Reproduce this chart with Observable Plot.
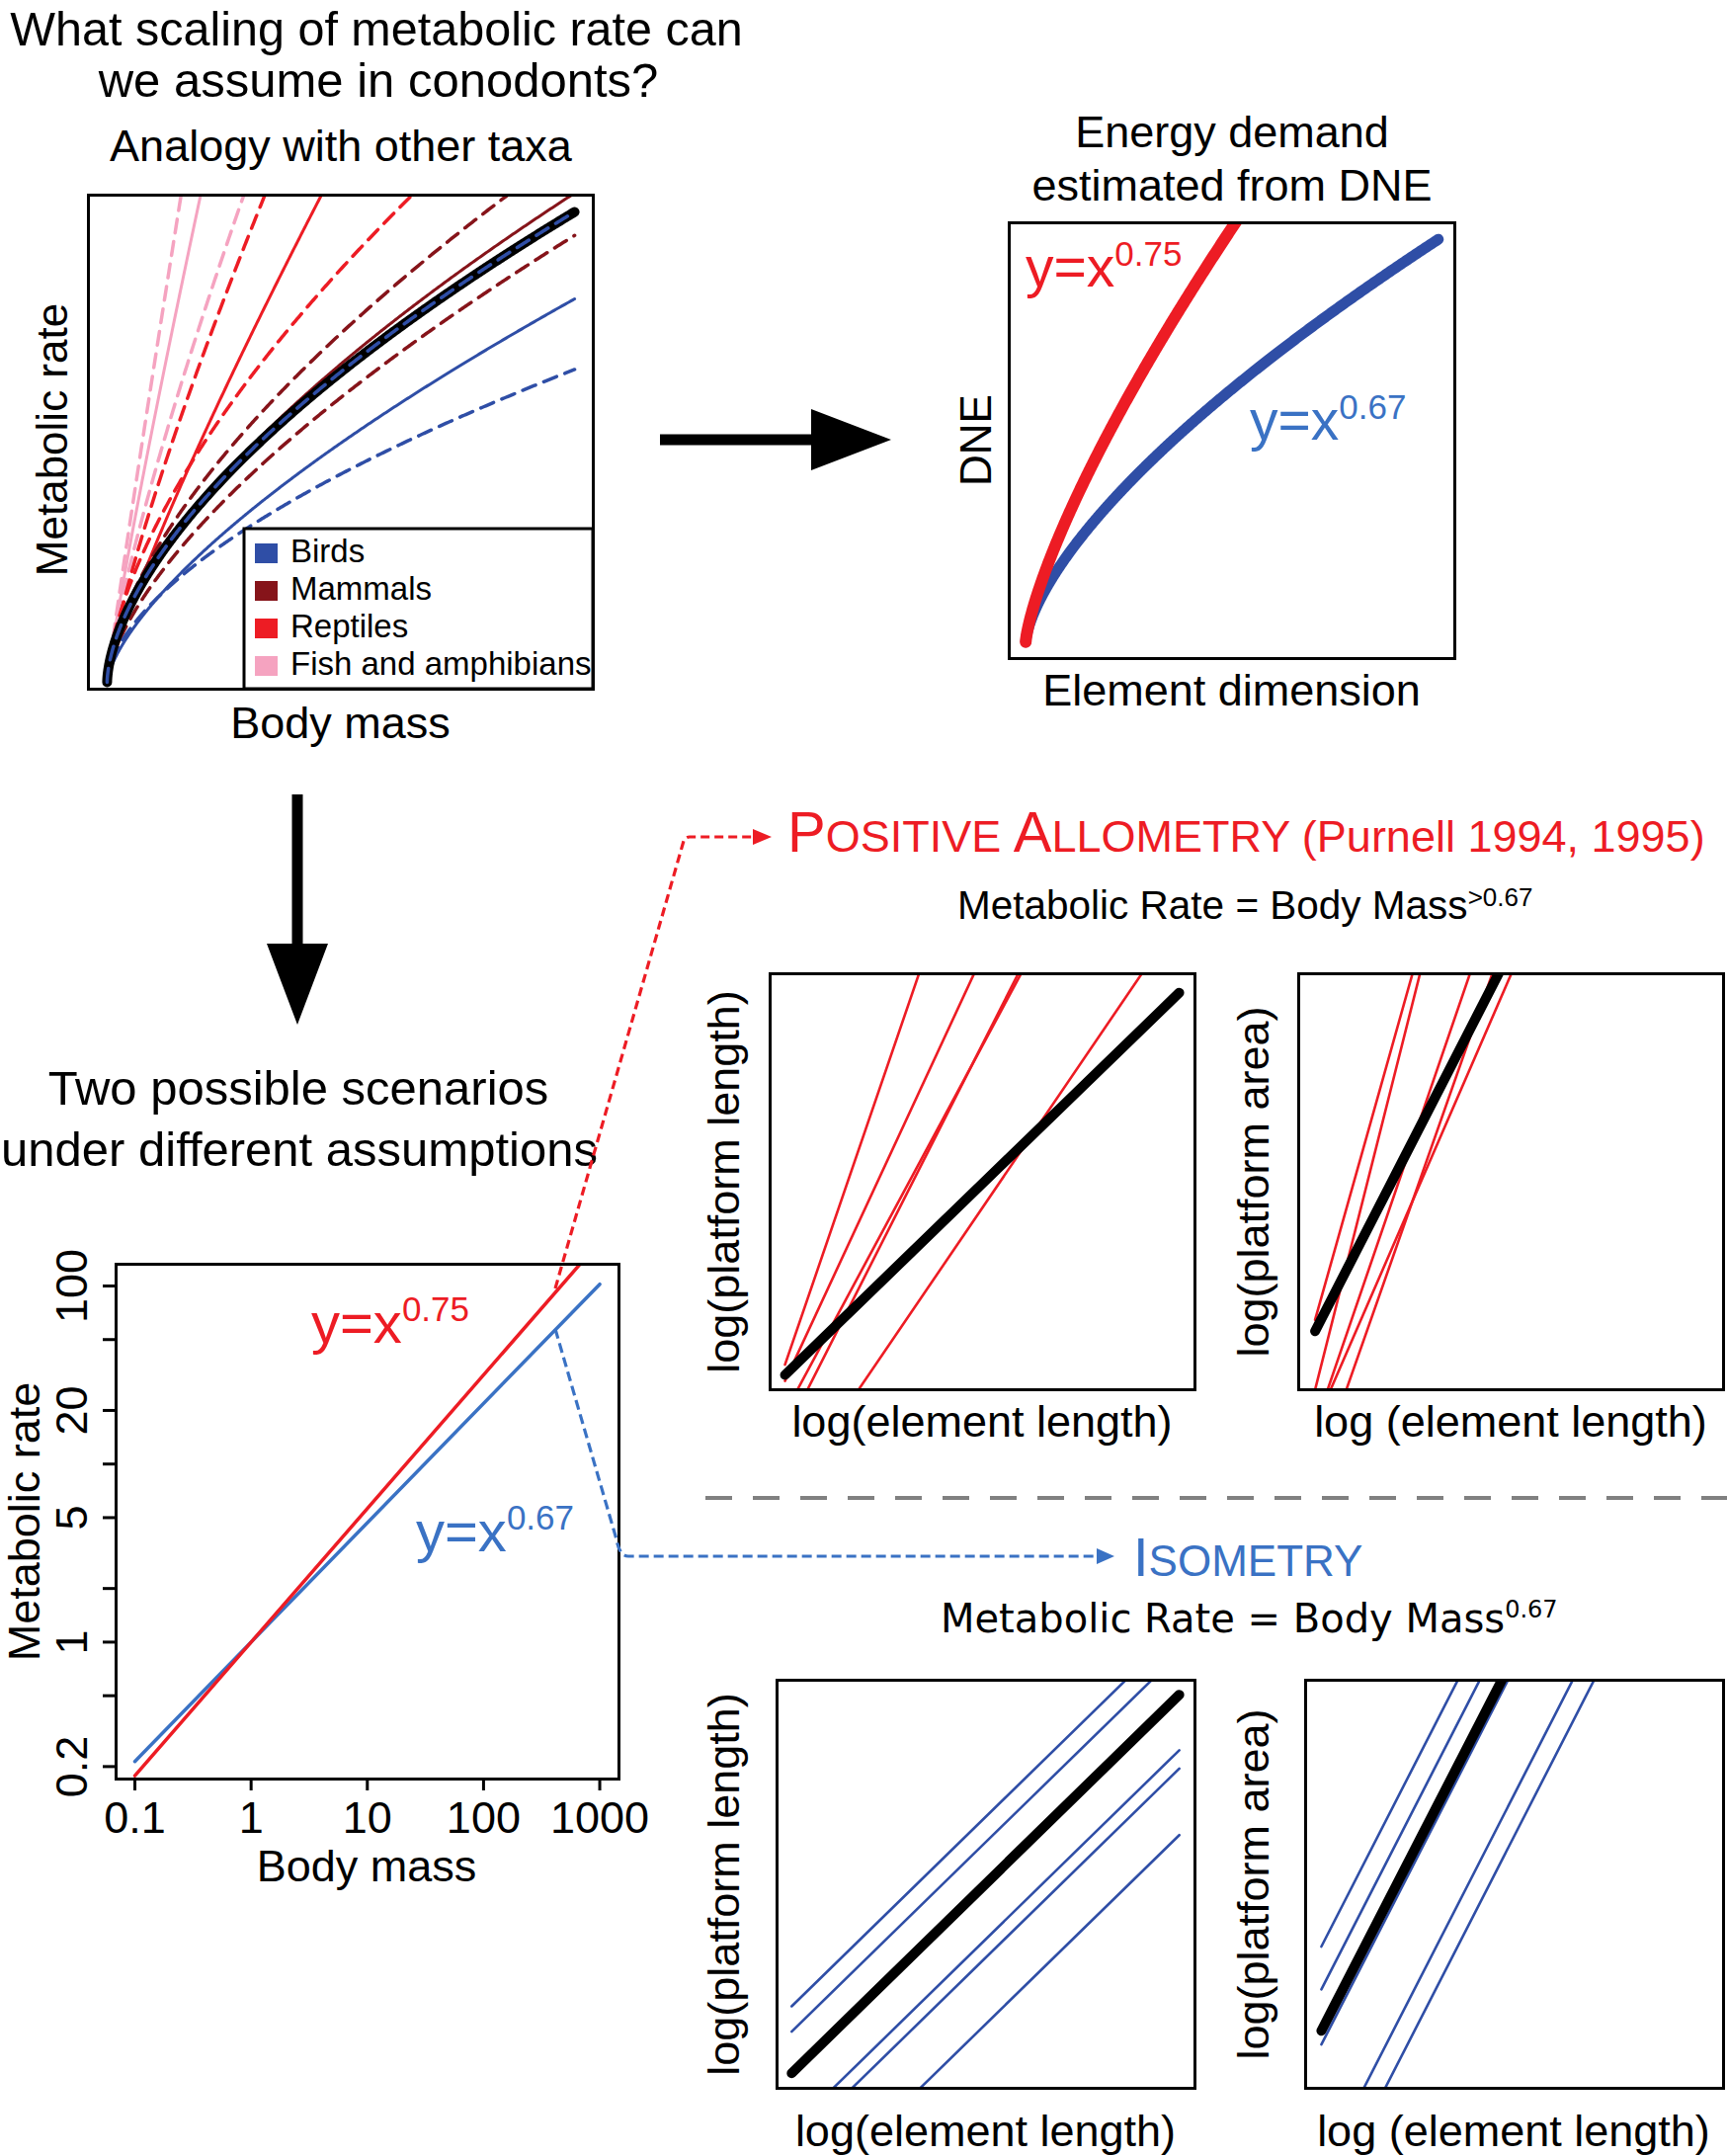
<!DOCTYPE html>
<html>
<head>
<meta charset="utf-8">
<script src="https://cdn.jsdelivr.net/npm/d3@7"></script>
<script src="https://cdn.jsdelivr.net/npm/@observablehq/plot@0.6"></script>
<style>
  body { margin: 0; background: #fff; }
  #page { position: relative; width: 1748px; height: 2182px; background: #fff; overflow: hidden; }
  #page text { white-space: pre; }
</style>
</head>
<body>
<div id="page"></div>
<script>
// ================= DATA =================
// Panel 1: "Analogy with other taxa" – metabolic rate = coef * mass^exp (normalised units)
const taxa = ["Birds", "Mammals", "Reptiles", "Fish and amphibians"];
const taxaColors = ["#2f4ea6", "#86141a", "#ed1c24", "#f5a3c0"];
const curveTaxon = ["Fish and amphibians", "Fish and amphibians", "Fish and amphibians",
                    "Reptiles", "Reptiles", "Reptiles",
                    "Mammals", "Mammals", "Mammals",
                    "Birds", "Birds"];
const curveDashed = [true, false, true, true, false, true, true, false, true, false, true];
const curveCoef = [5.97, 4.41, 2.77, 2.47, 2.01, 1.35, 1.14, 1.04, 0.95, 0.815, 0.665];
const curveExp  = [0.95, 0.90, 0.80, 0.80, 0.85, 0.62, 0.62, 0.62, 0.65, 0.68, 0.587];
const conodontCoef = 1.0;
const conodontExp = 0.60;

// Panel 2: "Energy demand estimated from DNE"
const dneSeries = ["0.75", "0.67"];
const dneCoef = [1.73, 1.0];
const dneExp = [0.75, 0.67];
const dneColors = ["#ed1c24", "#2f4ea6"];

// Panel 3: "Two possible scenarios" (log-log)
const scenarioSeries = ["0.67", "0.75"];
const scenarioExp = [0.67, 0.75];
const scenarioColors = ["#3a72c4", "#ed1c24"];
const massRange = [0.1, 1000];
const massTicks = [0.1, 1, 10, 100, 1000];
const massTickLabels = ["0.1", "1", "10", "100", "1000"];
const rateTicks = [0.2, 0.5, 1, 2, 5, 10, 20, 50, 100];
const rateTickLabels = ["0.2", "", "1", "", "5", "", "20", "", "100"];

// Panels 4-7: schematic log-log regressions, y = intercept + slope * x (unit frame)
const posLenIntercept = [-0.044, -0.056, -0.122, -0.177, -0.312];
const posLenSlope     = [2.98, 2.20, 1.90, 2.016, 1.50];
const posLenRef       = [0.001, 0.99];
const posAreaIntercept = [0.028, -0.156, -0.203, -0.176, -0.326];
const posAreaSlope     = [3.63, 4.05, 2.985, 2.35, 2.91];
const posAreaRef       = [0.064, 1.99];
const isoLenIntercept = [0.166, 0.104, -0.134, -0.179, -0.342];
const isoLenSlope     = [1, 1, 1, 1, 1];
const isoLenRef       = [0.002, 1.0];
const isoAreaIntercept = [0.272, 0.167, 0.032, -0.278, -0.38];
const isoAreaSlope     = [2, 2, 2, 2, 2];
const isoAreaRef       = [0.066, 1.99];

// ================= HELPERS =================
const FONT = '"Liberation Sans", Arial, Helvetica, sans-serif';
const page = document.getElementById("page");
function place(svg, left, top) {
  svg.style.position = "absolute";
  svg.style.left = left + "px";
  svg.style.top = top + "px";
  svg.style.maxWidth = "none";
  page.appendChild(svg);
}
const baseStyle = {fontFamily: FONT, background: "transparent", overflow: "visible"};
const grid = d3.range(0, 501).map(i => (i / 500) ** 2);

// ================= PANEL 1 =================
{
  const rows = [];
  curveTaxon.forEach((t, i) => grid.forEach(m => rows.push({id: i, taxon: t, dashed: curveDashed[i], x: m, y: curveCoef[i] * Math.pow(m, curveExp[i])})));
  const ref = grid.map(m => ({x: m, y: conodontCoef * Math.pow(m, conodontExp)}));
  const svg = Plot.plot({
    width: 640, height: 540,
    marginLeft: 89, marginRight: 40, marginTop: 17, marginBottom: 23,
    style: baseStyle,
    x: {domain: [-0.04, 1.04], axis: null},
    y: {domain: [-0.0147, 1.0357], axis: null},
    color: {domain: taxa, range: taxaColors},
    marks: [
      Plot.line(rows.filter(d => !d.dashed), {x: "x", y: "y", z: "id", stroke: "taxon", strokeWidth: 3, clip: true}),
      Plot.line(rows.filter(d => d.dashed), {x: "x", y: "y", z: "id", stroke: "taxon", strokeWidth: 3.5, strokeDasharray: "14,9", clip: true}),
      Plot.line(ref, {x: "x", y: "y", stroke: "#000", strokeWidth: 10, strokeLinecap: "round", clip: true}),
      Plot.line(ref, {x: "x", y: "y", stroke: taxaColors[0], strokeWidth: 3.5, strokeDasharray: "14,9", clip: true}),
      Plot.frame({stroke: "#000", strokeWidth: 3})
    ]
  });
  place(svg, 0, 180);
}

// ================= PANEL 2 =================
{
  const rows = [];
  dneSeries.forEach((s, i) => grid.forEach(m => rows.push({s, x: m, y: dneCoef[i] * Math.pow(m, dneExp[i])})));
  const svg = Plot.plot({
    width: 500, height: 500,
    marginLeft: 21, marginRight: 28, marginTop: 25, marginBottom: 34,
    style: baseStyle,
    x: {domain: [-0.04, 1.04], axis: null},
    y: {domain: [-0.041, 1.041], axis: null},
    color: {domain: dneSeries, range: dneColors},
    marks: [
      Plot.line(rows.filter(d => d.s === "0.67"), {x: "x", y: "y", stroke: "s", strokeWidth: 11, strokeLinecap: "round", clip: true}),
      Plot.line(rows.filter(d => d.s === "0.75"), {x: "x", y: "y", stroke: "s", strokeWidth: 12, strokeLinecap: "round", clip: true}),
      Plot.frame({stroke: "#000", strokeWidth: 3})
    ]
  });
  place(svg, 1000, 200);
}

// ================= PANEL 3 =================
{
  const rows = [];
  scenarioSeries.forEach((s, i) => massRange.forEach(m => rows.push({s, x: m, y: Math.pow(m, scenarioExp[i])})));
  const yLabelled = rateTicks.map((v, i) => ({v, t: rateTickLabels[i]})).filter(d => d.t !== "");
  const svg = Plot.plot({
    width: 700, height: 680,
    marginLeft: 117, marginRight: 74, marginTop: 19, marginBottom: 140,
    style: {...baseStyle, fontSize: "45px"},
    x: {type: "log", domain: [Math.pow(10, -1.1618), Math.pow(10, 3.1654)]},
    y: {type: "log", domain: [Math.pow(10, -0.769), Math.pow(10, 2.122)]},
    color: {domain: scenarioSeries, range: scenarioColors},
    marks: [
      Plot.line(rows, {x: "x", y: "y", z: "s", stroke: "s", strokeWidth: 3.5, clip: true}),
      Plot.frame({stroke: "#000", strokeWidth: 3}),
      Plot.axisX({ticks: massTicks, tickFormat: d => massTickLabels[massTicks.indexOf(d)], tickSize: 12, tickPadding: 11, strokeWidth: 3, fontSize: 45, label: null}),
      Plot.axisY({ticks: rateTicks, tickFormat: () => "", tickSize: 13, strokeWidth: 3, label: null}),
      Plot.text(yLabelled, {y: "v", text: "t", frameAnchor: "left", dx: -30, rotate: -90, textAnchor: "middle", lineAnchor: "bottom", fontSize: 45, fill: "#000"})
    ]
  });
  place(svg, 0, 1260);
}

// ================= PANELS 4-7 =================
function linePanel(left, top, w, h, m, x0, x1, intercepts, slopes, ref, color) {
  const thin = [];
  intercepts.forEach((a, i) => [x0, x1].forEach(x => thin.push({id: i, x, y: a + slopes[i] * x})));
  const thick = [x0, x1].map(x => ({x, y: ref[0] + ref[1] * x}));
  const svg = Plot.plot({
    width: w, height: h,
    marginLeft: m[0], marginRight: m[1], marginTop: m[2], marginBottom: m[3],
    style: baseStyle,
    x: {domain: [0, 1], axis: null},
    y: {domain: [0, 1], axis: null},
    marks: [
      Plot.line(thin, {x: "x", y: "y", z: "id", stroke: color, strokeWidth: 2.6, clip: true}),
      Plot.line(thick, {x: "x", y: "y", stroke: "#000", strokeWidth: 10, strokeLinecap: "round", clip: true}),
      Plot.frame({stroke: "#000", strokeWidth: 3})
    ]
  });
  place(svg, left, top);
}
linePanel(760, 970, 470, 450, [19, 21, 15, 14], 0.035, 0.963, posLenIntercept, posLenSlope, posLenRef, "#ed1c24");
linePanel(1300, 970, 448, 450, [14, 4, 15, 14], 0.0386, 0.97, posAreaIntercept, posAreaSlope, posAreaRef, "#ed1c24");
linePanel(770, 1685, 460, 445, [16, 21, 15, 17], 0.035, 0.9625, isoLenIntercept, isoLenSlope, isoLenRef, "#2f4ea6");
linePanel(1305, 1685, 443, 445, [16, 4, 15, 17], 0.0377, 0.97, isoAreaIntercept, isoAreaSlope, isoAreaRef, "#2f4ea6");

// ================= OVERLAY (text, arrows, legend) =================
const ov = d3.select(page).append("svg")
  .attr("width", 1748).attr("height", 2182)
  .style("position", "absolute").style("left", "0px").style("top", "0px")
  .attr("font-family", FONT);

function label(x, y, parts, opts = {}) {
  const t = ov.append("text").attr("x", x).attr("y", y)
    .attr("text-anchor", opts.anchor || "start")
    .attr("fill", opts.color || "#000");
  if (opts.rotate) t.attr("transform", `rotate(${opts.rotate},${x},${y})`);
  if (opts.family) t.attr("font-family", opts.family);
  parts.forEach(p => {
    const ts = t.append("tspan").attr("font-size", p.size).text(p.text);
    if (p.dy) ts.attr("dy", p.dy);
  });
  return t;
}

// titles
label(381, 46, [{text: "What scaling of metabolic rate can", size: 48.5}], {anchor: "middle"});
label(383, 98, [{text: "we assume in conodonts?", size: 49}], {anchor: "middle"});
label(345, 163, [{text: "Analogy with other taxa", size: 45}], {anchor: "middle"});
label(1247, 149, [{text: "Energy demand", size: 45}], {anchor: "middle"});
label(1247, 203, [{text: "estimated from DNE", size: 45}], {anchor: "middle"});
label(302, 1118, [{text: "Two possible scenarios", size: 49}], {anchor: "middle"});
label(303, 1180, [{text: "under different assumptions", size: 49}], {anchor: "middle"});

// panel 1 labels
label(68, 445, [{text: "Metabolic rate", size: 44}], {anchor: "middle", rotate: -90});
label(344.5, 747, [{text: "Body mass", size: 45}], {anchor: "middle"});
// legend
ov.append("rect").attr("x", 247).attr("y", 535).attr("width", 353).attr("height", 162)
  .attr("fill", "#fff").attr("stroke", "#000").attr("stroke-width", 3);
taxa.forEach((t, i) => {
  ov.append("rect").attr("x", 258).attr("y", 550 + i * 38).attr("width", 23).attr("height", 20).attr("fill", taxaColors[i]);
  label(294, 569 + i * 38, [{text: t, size: 33}]);
});

// panel 2 labels
label(1003, 445.5, [{text: "DNE", size: 44}], {anchor: "middle", rotate: -90});
label(1246.5, 714, [{text: "Element dimension", size: 45}], {anchor: "middle"});
label(1038, 290, [{text: "y=x", size: 57}, {text: "0.75", size: 35, dy: -21}], {color: "#ed1c24"});
label(1265, 445, [{text: "y=x", size: 57}, {text: "0.67", size: 35, dy: -21}], {color: "#3a72c4"});

// panel 3 labels
label(40, 1540, [{text: "Metabolic rate", size: 45}], {anchor: "middle", rotate: -90});
label(371, 1904, [{text: "Body mass", size: 45}], {anchor: "middle"});
label(315, 1359, [{text: "y=x", size: 58}, {text: "0.75", size: 35, dy: -22}], {color: "#ed1c24"});
label(421, 1570, [{text: "y=x", size: 58}, {text: "0.67", size: 35, dy: -22}], {color: "#3a72c4"});

// section headings
label(797, 862, [{text: "P", size: 58}, {text: "OSITIVE ", size: 45}, {text: "A", size: 58}, {text: "LLOMETRY (Purnell 1994, 1995)", size: 45}], {color: "#ed1c24"});
label(969, 930, [{text: "Metabolic Rate = Body Mass", size: 40.5}, {text: ">0.67", size: 26, dy: -13}]);
label(1147, 1595, [{text: "I", size: 56}, {text: "SOMETRY", size: 44}], {color: "#3a72c4"});
label(952, 1652, [{text: "Metabolic Rate = Body Mass", size: 40}, {text: "0.67", size: 24, dy: -15}], {family: '"DejaVu Sans", Verdana, sans-serif'});

// small panel axis labels
label(748, 1196, [{text: "log(platform length)", size: 45}], {anchor: "middle", rotate: -90});
label(994, 1454, [{text: "log(element length)", size: 45}], {anchor: "middle"});
label(1284, 1196, [{text: "log(platform area)", size: 45}], {anchor: "middle", rotate: -90});
label(1529, 1454, [{text: "log (element length)", size: 45}], {anchor: "middle"});
label(748, 1907, [{text: "log(platform length)", size: 45}], {anchor: "middle", rotate: -90});
label(997.5, 2172, [{text: "log(element length)", size: 45}], {anchor: "middle"});
label(1284, 1907, [{text: "log(platform area)", size: 45}], {anchor: "middle", rotate: -90});
label(1532, 2172, [{text: "log (element length)", size: 45}], {anchor: "middle"});

// block arrows
ov.append("path").attr("d", "M668,439.5 L821,439.5 L821,414 L902,445 L821,476 L821,450.5 L668,450.5 Z").attr("fill", "#000");
ov.append("path").attr("d", "M295.5,804 L306.5,804 L306.5,955 L332,955 L301,1037 L270,955 L295.5,955 Z").attr("fill", "#000");

// dashed connectors
ov.append("path").attr("d", "M562,1304 L692,851 Q694,847 698,847 L764,847")
  .attr("fill", "none").attr("stroke", "#ed1c24").attr("stroke-width", 3.2).attr("stroke-dasharray", "9,5");
ov.append("path").attr("d", "M762,839 L781,847 L762,855 Z").attr("fill", "#ed1c24");
ov.append("path").attr("d", "M562,1345 L624,1558 Q627,1575 636,1575 L1112,1575")
  .attr("fill", "none").attr("stroke", "#3a72c4").attr("stroke-width", 3.2).attr("stroke-dasharray", "10,5");
ov.append("path").attr("d", "M1110,1567 L1128,1575 L1110,1583 Z").attr("fill", "#3a72c4");

// divider
ov.append("line").attr("x1", 714).attr("x2", 1748).attr("y1", 1516).attr("y2", 1516)
  .attr("stroke", "#808080").attr("stroke-width", 4).attr("stroke-dasharray", "27,21");
</script>
</body>
</html>
